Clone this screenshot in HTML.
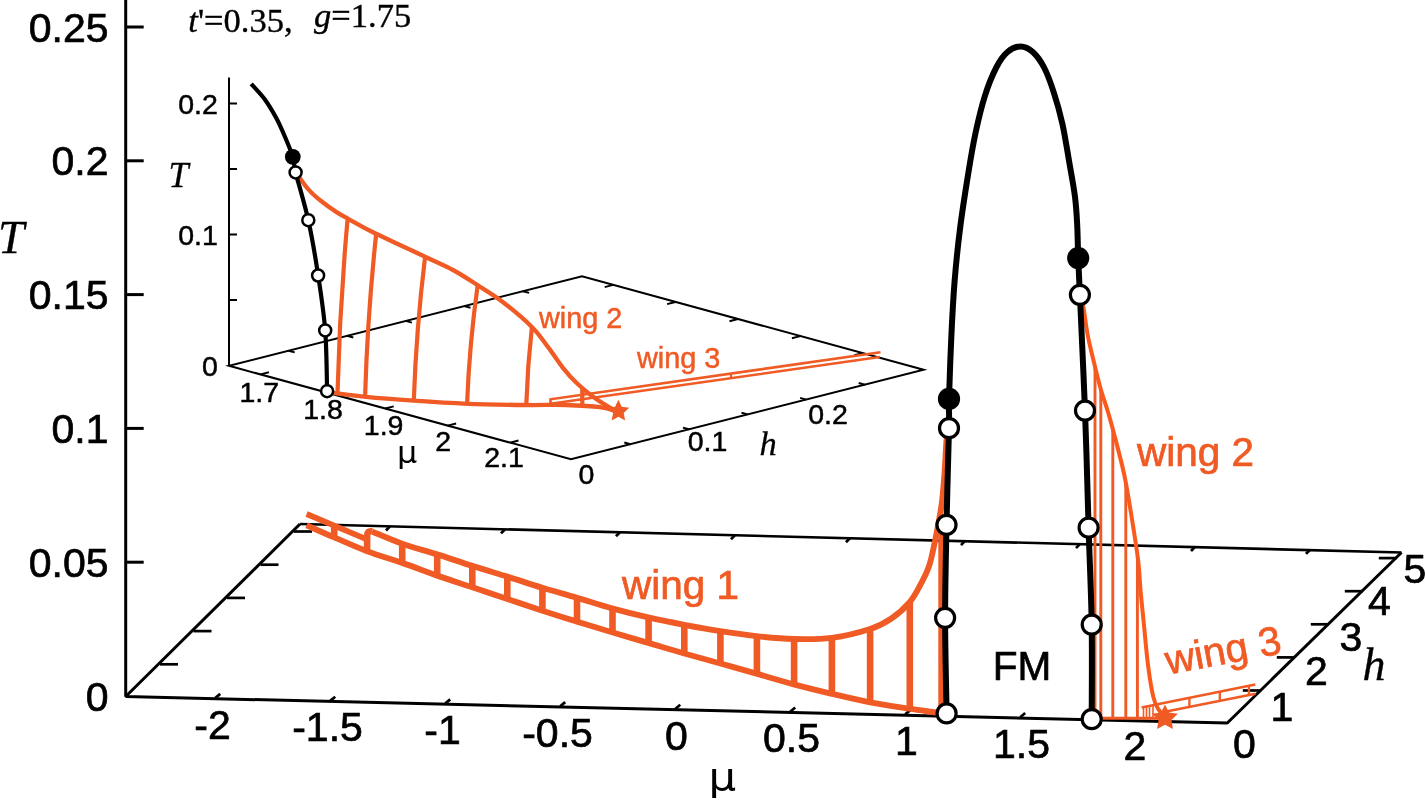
<!DOCTYPE html>
<html><head><meta charset="utf-8"><title>Phase diagram</title>
<style>
html,body{margin:0;padding:0;background:#fff;}
body{width:1425px;height:800px;overflow:hidden;}
svg{display:block;}
.s{font-family:"Liberation Sans",sans-serif;}
.sr{font-family:"Liberation Serif",serif;}
.dj{font-family:"DejaVu Sans","Liberation Sans",sans-serif;}
.si{font-family:"Liberation Serif",serif;font-style:italic;}
</style></head><body>
<svg width="1425" height="800" viewBox="0 0 1425 800">
<rect width="1425" height="800" fill="#fff"/>
<line x1="125.7" y1="0.0" x2="125.7" y2="696.8" stroke="#000" stroke-width="3" />
<text x="108.5" y="710.5" font-size="41" fill="#000" stroke="#000" stroke-width="0.7" text-anchor="end" class="s" >0</text>
<line x1="125.7" y1="562.2" x2="143.7" y2="562.2" stroke="#000" stroke-width="3" />
<text x="108.5" y="576.7" font-size="41" fill="#000" stroke="#000" stroke-width="0.7" text-anchor="end" class="s" >0.05</text>
<line x1="125.7" y1="428.4" x2="143.7" y2="428.4" stroke="#000" stroke-width="3" />
<text x="108.5" y="442.9" font-size="41" fill="#000" stroke="#000" stroke-width="0.7" text-anchor="end" class="s" >0.1</text>
<line x1="125.7" y1="294.6" x2="143.7" y2="294.6" stroke="#000" stroke-width="3" />
<text x="108.5" y="309.1" font-size="41" fill="#000" stroke="#000" stroke-width="0.7" text-anchor="end" class="s" >0.15</text>
<line x1="125.7" y1="160.8" x2="143.7" y2="160.8" stroke="#000" stroke-width="3" />
<text x="108.5" y="175.3" font-size="41" fill="#000" stroke="#000" stroke-width="0.7" text-anchor="end" class="s" >0.2</text>
<line x1="125.7" y1="27.0" x2="143.7" y2="27.0" stroke="#000" stroke-width="3" />
<text x="108.5" y="41.5" font-size="41" fill="#000" stroke="#000" stroke-width="0.7" text-anchor="end" class="s" >0.25</text>
<text x="-2.0" y="253.2" font-size="47" fill="#000" stroke="#000" stroke-width="0.3" text-anchor="start" class="si" >T</text>
<path d="M300.0 524.0 L125.7 696.5 L1227.3 723.0 L1401.5 552.5" stroke="#000" stroke-width="3" fill="none" stroke-linejoin="bevel"/>
<line x1="300.0" y1="524.0" x2="1401.5" y2="552.5" stroke="#000" stroke-width="2.6" />
<line x1="215.2" y1="698.1" x2="220.2" y2="693.9" stroke="#000" stroke-width="2.7" />
<line x1="390.0" y1="526.3" x2="386.0" y2="530.5" stroke="#000" stroke-width="2.7" />
<line x1="330.2" y1="700.9" x2="335.2" y2="696.7" stroke="#000" stroke-width="2.7" />
<line x1="505.0" y1="529.2" x2="501.0" y2="533.4" stroke="#000" stroke-width="2.7" />
<line x1="445.2" y1="703.6" x2="450.2" y2="699.4" stroke="#000" stroke-width="2.7" />
<line x1="620.0" y1="532.1" x2="616.0" y2="536.3" stroke="#000" stroke-width="2.7" />
<line x1="560.2" y1="706.3" x2="565.2" y2="702.1" stroke="#000" stroke-width="2.7" />
<line x1="735.0" y1="535.1" x2="731.0" y2="539.3" stroke="#000" stroke-width="2.7" />
<line x1="675.2" y1="709.0" x2="680.2" y2="704.8" stroke="#000" stroke-width="2.7" />
<line x1="850.0" y1="538.0" x2="846.0" y2="542.2" stroke="#000" stroke-width="2.7" />
<line x1="790.2" y1="711.7" x2="795.2" y2="707.5" stroke="#000" stroke-width="2.7" />
<line x1="965.0" y1="540.9" x2="961.0" y2="545.1" stroke="#000" stroke-width="2.7" />
<line x1="905.2" y1="714.4" x2="910.2" y2="710.2" stroke="#000" stroke-width="2.7" />
<line x1="1080.0" y1="543.9" x2="1076.0" y2="548.1" stroke="#000" stroke-width="2.7" />
<line x1="1020.2" y1="717.2" x2="1025.2" y2="713.0" stroke="#000" stroke-width="2.7" />
<line x1="1195.0" y1="546.8" x2="1191.0" y2="551.0" stroke="#000" stroke-width="2.7" />
<line x1="1310.0" y1="549.7" x2="1306.0" y2="553.9" stroke="#000" stroke-width="2.7" />
<text x="212.5" y="738.6" font-size="41" fill="#000" stroke="#000" stroke-width="0.7" text-anchor="middle" class="s" >-2</text>
<text x="327.5" y="741.4" font-size="41" fill="#000" stroke="#000" stroke-width="0.7" text-anchor="middle" class="s" >-1.5</text>
<text x="442.5" y="744.1" font-size="41" fill="#000" stroke="#000" stroke-width="0.7" text-anchor="middle" class="s" >-1</text>
<text x="557.5" y="746.8" font-size="41" fill="#000" stroke="#000" stroke-width="0.7" text-anchor="middle" class="s" >-0.5</text>
<text x="676.5" y="749.5" font-size="41" fill="#000" stroke="#000" stroke-width="0.7" text-anchor="middle" class="s" >0</text>
<text x="791.5" y="752.2" font-size="41" fill="#000" stroke="#000" stroke-width="0.7" text-anchor="middle" class="s" >0.5</text>
<text x="906.5" y="754.9" font-size="41" fill="#000" stroke="#000" stroke-width="0.7" text-anchor="middle" class="s" >1</text>
<text x="1021.5" y="757.7" font-size="41" fill="#000" stroke="#000" stroke-width="0.7" text-anchor="middle" class="s" >1.5</text>
<text x="1135.0" y="760.4" font-size="41" fill="#000" stroke="#000" stroke-width="0.7" text-anchor="middle" class="s" >2</text>
<text x="0.0" y="0.0" font-size="39.5" fill="#000" stroke="#000" stroke-width="0" text-anchor="start" class="dj" transform="translate(708.4 789.6) scale(1.1 1)">μ</text>
<line x1="1260.8" y1="690.5" x2="1242.8" y2="690.5" stroke="#000" stroke-width="2.7" />
<line x1="160.0" y1="664.3" x2="178.0" y2="664.3" stroke="#000" stroke-width="2.7" />
<line x1="1294.8" y1="657.4" x2="1276.8" y2="657.4" stroke="#000" stroke-width="2.7" />
<line x1="193.5" y1="631.1" x2="211.5" y2="631.1" stroke="#000" stroke-width="2.7" />
<line x1="1328.8" y1="624.3" x2="1310.8" y2="624.3" stroke="#000" stroke-width="2.7" />
<line x1="227.0" y1="597.9" x2="245.0" y2="597.9" stroke="#000" stroke-width="2.7" />
<line x1="1362.8" y1="591.2" x2="1344.8" y2="591.2" stroke="#000" stroke-width="2.7" />
<line x1="260.5" y1="564.7" x2="278.5" y2="564.7" stroke="#000" stroke-width="2.7" />
<line x1="1396.8" y1="558.1" x2="1378.8" y2="558.1" stroke="#000" stroke-width="2.7" />
<line x1="294.0" y1="531.5" x2="312.0" y2="531.5" stroke="#000" stroke-width="2.7" />
<text x="1244.5" y="758.0" font-size="41" fill="#000" stroke="#000" stroke-width="0.7" text-anchor="middle" class="s" >0</text>
<text x="1282.0" y="721.0" font-size="41" fill="#000" stroke="#000" stroke-width="0.7" text-anchor="middle" class="s" >1</text>
<text x="1316.5" y="685.0" font-size="41" fill="#000" stroke="#000" stroke-width="0.7" text-anchor="middle" class="s" >2</text>
<text x="1351.0" y="650.7" font-size="41" fill="#000" stroke="#000" stroke-width="0.7" text-anchor="middle" class="s" >3</text>
<text x="1379.5" y="614.5" font-size="41" fill="#000" stroke="#000" stroke-width="0.7" text-anchor="middle" class="s" >4</text>
<text x="1415.0" y="583.0" font-size="41" fill="#000" stroke="#000" stroke-width="0.7" text-anchor="middle" class="s" >5</text>
<text x="1374.0" y="680.0" font-size="46" fill="#000" stroke="#000" stroke-width="0.3" text-anchor="middle" class="si" >h</text>
<path d="M306.6 514.0 L334.2 525.6 L365.0 538.6" stroke="#f05a24" stroke-width="5.9" fill="none" />
<path d="M367.1 551 L367.1 536 Q367.1 530 372 531.5" stroke="#f05a24" stroke-width="6.6" fill="none" />
<path d="M372.0 531.5 C377.0 533.5 391.3 539.9 402.2 543.7 C413.1 547.5 425.5 550.7 437.2 554.4 C448.9 558.1 460.6 562.2 472.3 565.9 C484.0 569.6 495.6 573.0 507.3 576.6 C519.0 580.2 530.8 584.3 542.4 587.8 C554.0 591.3 565.4 594.4 577.0 597.8 C588.6 601.2 600.1 605.1 612.0 608.4 C623.9 611.7 636.2 614.7 648.2 617.4 C660.2 620.1 672.3 622.5 684.3 624.8 C696.3 627.1 708.4 629.3 720.4 631.2 C732.4 633.1 744.3 634.8 756.5 636.1 C768.7 637.4 781.1 638.7 793.7 639.0 C806.3 639.3 819.2 639.5 831.9 637.8 C844.6 636.1 860.2 632.2 870.1 629.0 C880.0 625.8 884.9 622.9 891.4 618.5 C897.9 614.1 904.4 608.4 909.4 602.5 C914.4 596.6 917.7 589.8 921.1 583.4 C924.5 577.0 927.1 572.5 929.6 564.4 C932.1 556.2 934.3 544.5 936.3 534.5 C938.3 524.5 940.2 514.6 941.6 504.7 C943.0 494.8 943.6 485.3 944.4 475.0 C945.2 464.7 945.8 450.6 946.3 443.1 C946.8 435.6 947.3 432.2 947.5 430.0" stroke="#f05a24" stroke-width="5.9" fill="none" />
<path d="M306.6 525.3 C311.2 527.3 324.1 533.1 334.2 537.4 C344.3 541.7 355.8 547.0 367.1 551.2 C378.4 555.5 390.5 558.8 402.2 562.9 C413.9 567.0 425.5 571.5 437.2 575.6 C448.9 579.7 460.6 583.4 472.3 587.3 C484.0 591.2 495.6 595.1 507.3 599.0 C519.0 602.9 530.8 606.9 542.4 610.7 C554.0 614.5 565.4 618.0 577.0 621.6 C588.6 625.2 600.1 628.7 612.0 632.2 C623.9 635.8 636.2 639.4 648.2 642.9 C660.2 646.4 672.3 650.1 684.3 653.5 C696.3 656.9 708.4 660.1 720.4 663.5 C732.4 666.9 744.3 670.2 756.5 673.7 C768.7 677.2 781.1 680.9 793.7 684.3 C806.3 687.6 819.2 690.8 831.9 693.8 C844.6 696.8 857.2 699.8 870.1 702.3 C883.0 704.8 898.4 707.0 909.4 708.7 C920.4 710.4 930.1 711.6 936.0 712.5 C941.9 713.4 943.5 713.8 945.0 714.0" stroke="#f05a24" stroke-width="5.9" fill="none" />
<line x1="334.2" y1="525.6" x2="334.2" y2="537.4" stroke="#f05a24" stroke-width="6.6" />
<line x1="402.2" y1="543.7" x2="402.2" y2="562.9" stroke="#f05a24" stroke-width="6.6" />
<line x1="437.2" y1="554.4" x2="437.2" y2="575.6" stroke="#f05a24" stroke-width="6.6" />
<line x1="472.3" y1="565.9" x2="472.3" y2="587.3" stroke="#f05a24" stroke-width="6.6" />
<line x1="507.3" y1="576.6" x2="507.3" y2="599.0" stroke="#f05a24" stroke-width="6.6" />
<line x1="542.4" y1="587.8" x2="542.4" y2="610.7" stroke="#f05a24" stroke-width="6.6" />
<line x1="577.0" y1="597.8" x2="577.0" y2="621.6" stroke="#f05a24" stroke-width="6.6" />
<line x1="612.5" y1="608.5" x2="612.5" y2="632.3" stroke="#f05a24" stroke-width="6.6" />
<line x1="648.6" y1="617.5" x2="648.6" y2="643.0" stroke="#f05a24" stroke-width="6.6" />
<line x1="684.3" y1="624.8" x2="684.3" y2="653.5" stroke="#f05a24" stroke-width="6.6" />
<line x1="720.4" y1="631.2" x2="720.4" y2="663.5" stroke="#f05a24" stroke-width="6.6" />
<line x1="756.9" y1="636.1" x2="756.9" y2="673.8" stroke="#f05a24" stroke-width="6.6" />
<line x1="794.1" y1="639.0" x2="794.1" y2="684.4" stroke="#f05a24" stroke-width="6.6" />
<line x1="831.9" y1="637.8" x2="831.9" y2="693.8" stroke="#f05a24" stroke-width="6.6" />
<line x1="870.1" y1="629.0" x2="870.1" y2="702.3" stroke="#f05a24" stroke-width="6.6" />
<line x1="909.8" y1="601.8" x2="909.8" y2="708.8" stroke="#f05a24" stroke-width="6.6" />
<line x1="941.3" y1="520.0" x2="941.3" y2="714.0" stroke="#f05a24" stroke-width="6" />
<text x="622.0" y="599.3" font-size="40.5" fill="#f05a24" stroke="#f05a24" stroke-width="0.7" text-anchor="start" class="s" >wing 1</text>
<path d="M1081.0 299.0 C1081.4 300.5 1082.5 301.9 1083.6 308.0 C1084.7 314.1 1085.9 325.7 1087.8 335.6 C1089.7 345.5 1093.0 358.4 1095.2 367.5 C1097.4 376.6 1098.9 382.6 1101.0 390.0 C1103.1 397.4 1105.9 404.9 1108.0 412.0 C1110.1 419.1 1111.0 422.0 1113.7 432.5 C1116.4 443.0 1121.3 460.8 1124.3 475.0 C1127.3 489.2 1129.4 503.3 1131.7 517.5 C1134.0 531.7 1136.6 547.9 1138.1 560.0 C1139.6 572.1 1139.6 579.6 1140.5 590.0 C1141.4 600.4 1142.5 610.0 1143.7 622.5 C1145.0 635.0 1146.4 652.6 1148.0 665.0 C1149.6 677.4 1151.5 689.5 1153.3 696.9 C1155.1 704.3 1156.6 706.2 1158.6 709.6 C1160.5 713.0 1163.9 715.8 1165.0 717.0" stroke="#fb5a1c" stroke-width="4.0" fill="none" />
<line x1="1095.0" y1="366.6" x2="1095.0" y2="719.0" stroke="#f05a24" stroke-width="2.9" />
<line x1="1100.8" y1="389.2" x2="1100.8" y2="719.0" stroke="#f05a24" stroke-width="2.9" />
<line x1="1112.8" y1="429.3" x2="1112.8" y2="719.0" stroke="#f05a24" stroke-width="2.9" />
<line x1="1125.8" y1="483.6" x2="1125.8" y2="719.0" stroke="#f05a24" stroke-width="2.9" />
<line x1="1137.4" y1="555.4" x2="1137.4" y2="719.0" stroke="#f05a24" stroke-width="2.9" />
<line x1="1091.0" y1="718.2" x2="1165.0" y2="718.2" stroke="#f05a24" stroke-width="3" />
<path d="M1141.6 707.5 L1255.3 684.5" stroke="#f05a24" stroke-width="2.5" fill="none" />
<path d="M1160.0 712.7 L1255.5 693.7" stroke="#f05a24" stroke-width="2.5" fill="none" />
<line x1="1143.5" y1="707.1" x2="1143.5" y2="717.0" stroke="#f05a24" stroke-width="1.6" />
<line x1="1146.5" y1="706.5" x2="1146.5" y2="717.0" stroke="#f05a24" stroke-width="1.6" />
<line x1="1149.5" y1="705.9" x2="1149.5" y2="717.0" stroke="#f05a24" stroke-width="1.6" />
<line x1="1153.0" y1="705.2" x2="1153.0" y2="717.0" stroke="#f05a24" stroke-width="1.6" />
<line x1="1189.4" y1="697.8" x2="1189.4" y2="706.9" stroke="#f05a24" stroke-width="2.3" />
<line x1="1219.8" y1="691.7" x2="1219.8" y2="700.8" stroke="#f05a24" stroke-width="2.3" />
<line x1="1248.9" y1="685.8" x2="1248.9" y2="695.0" stroke="#f05a24" stroke-width="2.3" />
<polygon points="1165.0,704.5 1161.0,712.5 1152.2,713.8 1158.5,720.1 1157.1,728.9 1165.0,724.8 1172.9,728.9 1171.5,720.1 1177.8,713.8 1169.0,712.5" fill="#f05a24"/>
<text x="1137.0" y="466.0" font-size="40.5" fill="#f05a24" stroke="#f05a24" stroke-width="0.7" text-anchor="start" class="s" >wing 2</text>
<text x="1168.0" y="674.5" font-size="40.5" fill="#f05a24" stroke="#f05a24" stroke-width="0.7" text-anchor="start" class="s" transform="rotate(-10.5 1168 674.5)">wing 3</text>
<text x="992.8" y="679.7" font-size="40.5" fill="#000" stroke="#000" stroke-width="0.7" text-anchor="start" class="s" >FM</text>
<path d="M946.6 713.4 C946.4 697.5 945.1 649.2 945.1 617.8 C945.1 586.4 945.9 556.5 946.5 524.9 C947.1 493.3 948.6 449.2 949.0 428.2 C949.4 407.2 948.6 414.0 949.0 398.9 C949.4 383.8 950.4 357.1 951.3 337.5 C952.2 317.9 953.1 300.1 954.6 281.3 C956.1 262.6 958.2 242.8 960.5 225.0 C962.8 207.2 965.6 189.9 968.1 174.4 C970.6 158.9 972.9 145.3 975.7 132.2 C978.5 119.1 981.6 106.4 985.0 95.6 C988.4 84.8 992.5 74.8 996.3 67.5 C1000.0 60.2 1003.4 55.5 1007.5 52.0 C1011.6 48.5 1016.5 46.4 1020.7 46.4 C1024.9 46.4 1028.9 48.5 1032.8 52.0 C1036.7 55.5 1040.6 60.7 1044.1 67.5 C1047.6 74.3 1050.9 83.4 1053.9 92.8 C1057.0 102.2 1059.8 112.1 1062.4 123.8 C1065.0 135.5 1067.3 150.9 1069.4 163.1 C1071.5 175.3 1073.7 186.6 1075.0 196.9 C1076.3 207.2 1076.7 214.8 1077.2 225.0 C1077.7 235.2 1077.8 246.5 1078.2 258.1 C1078.7 269.7 1078.8 269.4 1079.9 294.8 C1081.0 320.2 1083.5 371.8 1085.0 410.6 C1086.5 449.4 1087.5 492.0 1088.6 527.7 C1089.7 563.4 1091.2 592.7 1091.7 624.6 C1092.2 656.5 1091.7 703.4 1091.7 719.2" stroke="#000" stroke-width="6.0" fill="none" />
<circle cx="949.0" cy="398.9" r="11.1" fill="#000" stroke="#000" stroke-width="0"/>
<circle cx="1078.2" cy="258.1" r="11.1" fill="#000" stroke="#000" stroke-width="0"/>
<circle cx="949.0" cy="428.2" r="9.5" fill="#fff" stroke="#000" stroke-width="3.2"/>
<circle cx="946.5" cy="524.9" r="9.5" fill="#fff" stroke="#000" stroke-width="3.2"/>
<circle cx="945.1" cy="617.8" r="9.5" fill="#fff" stroke="#000" stroke-width="3.2"/>
<circle cx="946.6" cy="713.4" r="9.5" fill="#fff" stroke="#000" stroke-width="3.2"/>
<circle cx="1079.9" cy="294.8" r="9.5" fill="#fff" stroke="#000" stroke-width="3.2"/>
<circle cx="1085.0" cy="410.6" r="9.5" fill="#fff" stroke="#000" stroke-width="3.2"/>
<circle cx="1088.6" cy="527.7" r="9.5" fill="#fff" stroke="#000" stroke-width="3.2"/>
<circle cx="1091.7" cy="624.6" r="9.5" fill="#fff" stroke="#000" stroke-width="3.2"/>
<circle cx="1091.7" cy="719.2" r="9.5" fill="#fff" stroke="#000" stroke-width="3.2"/>
<line x1="229.0" y1="77.5" x2="229.0" y2="366.0" stroke="#000" stroke-width="2.0" />
<line x1="229.0" y1="103.5" x2="237.0" y2="103.5" stroke="#000" stroke-width="2.0" />
<text x="217.8" y="113.7" font-size="28.5" fill="#000" stroke="#000" stroke-width="0.5" text-anchor="end" class="s" >0.2</text>
<line x1="229.0" y1="169.0" x2="237.0" y2="169.0" stroke="#000" stroke-width="2.0" />
<line x1="229.0" y1="234.5" x2="237.0" y2="234.5" stroke="#000" stroke-width="2.0" />
<text x="217.8" y="244.7" font-size="28.5" fill="#000" stroke="#000" stroke-width="0.5" text-anchor="end" class="s" >0.1</text>
<line x1="229.0" y1="300.0" x2="237.0" y2="300.0" stroke="#000" stroke-width="2.0" />
<text x="217.8" y="375.7" font-size="28.5" fill="#000" stroke="#000" stroke-width="0.5" text-anchor="end" class="s" >0</text>
<text x="168.5" y="187.4" font-size="35.8" fill="#000" stroke="#000" stroke-width="0.3" text-anchor="start" class="si" >T</text>
<path d="M229.0 365.8 L571.0 459.3 L923.6 369.8 L582.0 276.3Z" stroke="#000" stroke-width="2.0" fill="none" />
<line x1="260.5" y1="374.4" x2="268.9" y2="372.3" stroke="#000" stroke-width="2.0" />
<text x="259.3" y="401.9" font-size="28.5" fill="#000" stroke="#000" stroke-width="0.5" text-anchor="middle" class="s" >1.7</text>
<line x1="613.1" y1="284.9" x2="604.7" y2="287.1" stroke="#000" stroke-width="2.0" />
<line x1="322.9" y1="391.5" x2="331.3" y2="389.3" stroke="#000" stroke-width="2.0" />
<text x="323.0" y="418.9" font-size="28.5" fill="#000" stroke="#000" stroke-width="0.5" text-anchor="middle" class="s" >1.8</text>
<line x1="675.5" y1="302.0" x2="667.1" y2="304.1" stroke="#000" stroke-width="2.0" />
<line x1="385.3" y1="408.5" x2="393.7" y2="406.4" stroke="#000" stroke-width="2.0" />
<text x="383.6" y="434.8" font-size="28.5" fill="#000" stroke="#000" stroke-width="0.5" text-anchor="middle" class="s" >1.9</text>
<line x1="737.9" y1="319.0" x2="729.5" y2="321.2" stroke="#000" stroke-width="2.0" />
<line x1="447.7" y1="425.6" x2="456.1" y2="423.5" stroke="#000" stroke-width="2.0" />
<text x="443.1" y="450.7" font-size="28.5" fill="#000" stroke="#000" stroke-width="0.5" text-anchor="middle" class="s" >2</text>
<line x1="800.3" y1="336.1" x2="791.9" y2="338.2" stroke="#000" stroke-width="2.0" />
<line x1="510.1" y1="442.7" x2="518.5" y2="440.5" stroke="#000" stroke-width="2.0" />
<text x="504.0" y="466.7" font-size="28.5" fill="#000" stroke="#000" stroke-width="0.5" text-anchor="middle" class="s" >2.1</text>
<line x1="862.7" y1="353.2" x2="854.3" y2="355.3" stroke="#000" stroke-width="2.0" />
<line x1="630.5" y1="444.2" x2="624.3" y2="442.5" stroke="#000" stroke-width="2.0" />
<line x1="288.5" y1="350.7" x2="294.7" y2="352.4" stroke="#000" stroke-width="2.0" />
<line x1="689.1" y1="429.3" x2="682.9" y2="427.6" stroke="#000" stroke-width="2.0" />
<line x1="347.1" y1="335.8" x2="353.3" y2="337.5" stroke="#000" stroke-width="2.0" />
<line x1="747.7" y1="414.4" x2="741.5" y2="412.8" stroke="#000" stroke-width="2.0" />
<line x1="405.7" y1="320.9" x2="411.9" y2="322.6" stroke="#000" stroke-width="2.0" />
<line x1="806.3" y1="399.6" x2="800.1" y2="397.9" stroke="#000" stroke-width="2.0" />
<line x1="464.3" y1="306.1" x2="470.5" y2="307.8" stroke="#000" stroke-width="2.0" />
<line x1="864.9" y1="384.7" x2="858.7" y2="383.0" stroke="#000" stroke-width="2.0" />
<line x1="522.9" y1="291.2" x2="529.1" y2="292.9" stroke="#000" stroke-width="2.0" />
<text x="586.5" y="483.5" font-size="28.5" fill="#000" stroke="#000" stroke-width="0.5" text-anchor="middle" class="s" >0</text>
<text x="707.5" y="451.0" font-size="28.5" fill="#000" stroke="#000" stroke-width="0.5" text-anchor="middle" class="s" >0.1</text>
<text x="828.0" y="424.0" font-size="28.5" fill="#000" stroke="#000" stroke-width="0.5" text-anchor="middle" class="s" >0.2</text>
<text x="759.5" y="454.5" font-size="34.5" fill="#000" stroke="#000" stroke-width="0.3" text-anchor="start" class="si" >h</text>
<text x="0.0" y="0.0" font-size="29.5" fill="#000" stroke="#000" stroke-width="0" text-anchor="start" class="dj" transform="translate(397 463.2) scale(1.08 1)">μ</text>
<path d="M296.0 173.0 C296.5 173.6 296.9 174.0 299.0 176.8 C301.1 179.6 304.9 185.5 308.6 189.6 C312.3 193.7 316.8 197.6 321.4 201.3 C326.0 205.0 331.6 208.9 336.2 211.9 C340.8 214.9 342.6 215.8 349.0 219.3 C355.4 222.8 361.7 226.8 374.4 233.0 C387.1 239.2 411.9 250.5 425.0 256.7 C438.1 262.9 444.3 265.3 453.0 270.0 C461.7 274.7 468.8 279.5 477.0 284.8 C485.2 290.1 493.2 294.7 502.4 301.7 C511.5 308.7 524.2 319.3 531.9 327.0 C539.6 334.7 543.6 341.3 548.8 348.1 C554.0 354.9 558.2 361.9 562.9 367.8 C567.6 373.7 572.0 378.6 576.9 383.3 C581.8 388.0 586.6 392.0 592.0 396.0 C597.4 400.0 604.6 404.5 609.0 407.2 C613.4 409.9 616.8 411.2 618.4 412.0" stroke="#f05a24" stroke-width="4.3" fill="none" />
<path d="M327.1 391.2 C328.4 391.5 328.5 392.2 335.0 393.1 C341.5 394.0 352.9 395.5 366.0 396.8 C379.1 398.1 396.9 399.5 413.8 400.7 C430.7 401.9 448.4 403.1 467.2 403.8 C485.9 404.5 509.9 404.8 526.3 405.0 C542.7 405.2 553.4 404.6 565.7 405.0 C578.0 405.4 591.2 406.0 600.0 407.2 C608.8 408.4 615.3 411.2 618.4 412.0" stroke="#f05a24" stroke-width="4.3" fill="none" />
<path d="M347.5 220.2 Q339.7 306.6 337.5 393.1" stroke="#f05a24" stroke-width="4.2" fill="none" />
<path d="M376.1 234.5 Q367.5 315.4 365.1 396.3" stroke="#f05a24" stroke-width="4.2" fill="none" />
<path d="M425.0 257.5 Q416.3 329.0 413.8 400.5" stroke="#f05a24" stroke-width="4.2" fill="none" />
<path d="M477.7 285.0 Q469.4 344.2 467.1 403.4" stroke="#f05a24" stroke-width="4.2" fill="none" />
<path d="M531.9 327.0 Q527.5 366.0 526.3 405.0" stroke="#f05a24" stroke-width="4.2" fill="none" />
<path d="M582.3 387.5 Q582.3 396.6 582.3 405.8" stroke="#f05a24" stroke-width="4.2" fill="none" />
<path d="M550.5 403.8 L550.5 399.3 L880.5 352.2" stroke="#f05a24" stroke-width="2.6" fill="none" />
<path d="M550.5 403.8 L879.7 357.0" stroke="#f05a24" stroke-width="2.6" fill="none" />
<line x1="731.0" y1="373.5" x2="731.0" y2="378.5" stroke="#f05a24" stroke-width="2.2" />
<polygon points="618.4,399.8 615.1,406.7 607.6,407.7 613.1,412.9 611.7,420.4 618.4,416.8 625.1,420.4 623.7,412.9 629.2,407.7 621.7,406.7" fill="#f05a24"/>
<text x="539.0" y="328.0" font-size="28.8" fill="#f05a24" stroke="#f05a24" stroke-width="0.5" text-anchor="start" class="s" >wing 2</text>
<text x="637.0" y="368.0" font-size="28.8" fill="#f05a24" stroke="#f05a24" stroke-width="0.5" text-anchor="start" class="s" >wing 3</text>
<path d="M251.2 83.8 C253.4 86.4 260.6 93.6 264.7 99.2 C268.8 104.8 272.7 111.5 276.0 117.5 C279.3 123.5 281.6 128.9 284.4 135.5 C287.2 142.1 290.9 150.7 292.8 156.8 C294.7 163.0 293.0 161.8 295.6 172.4 C298.2 183.0 304.6 203.1 308.3 220.2 C312.1 237.3 315.3 256.6 318.1 275.0 C320.9 293.4 323.7 311.0 325.2 330.4 C326.7 349.8 326.8 381.1 327.1 391.2" stroke="#000" stroke-width="4.2" fill="none" />
<circle cx="292.8" cy="156.8" r="7.9" fill="#000" stroke="#000" stroke-width="0"/>
<circle cx="295.6" cy="172.4" r="6.0" fill="#fff" stroke="#000" stroke-width="2.5"/>
<circle cx="308.3" cy="220.2" r="6.0" fill="#fff" stroke="#000" stroke-width="2.5"/>
<circle cx="318.1" cy="275.5" r="6.0" fill="#fff" stroke="#000" stroke-width="2.5"/>
<circle cx="325.2" cy="330.4" r="6.0" fill="#fff" stroke="#000" stroke-width="2.5"/>
<circle cx="327.1" cy="391.2" r="6.0" fill="#fff" stroke="#000" stroke-width="2.5"/>
<text x="188.3" y="31.7" font-size="34.5" class="sr" stroke="#000" stroke-width="0.4"><tspan class="si">t</tspan>'=0.35,<tspan dx="21.5" dy="-4.6" class="si">g</tspan>=1.75</text>
</svg>
</body></html>
